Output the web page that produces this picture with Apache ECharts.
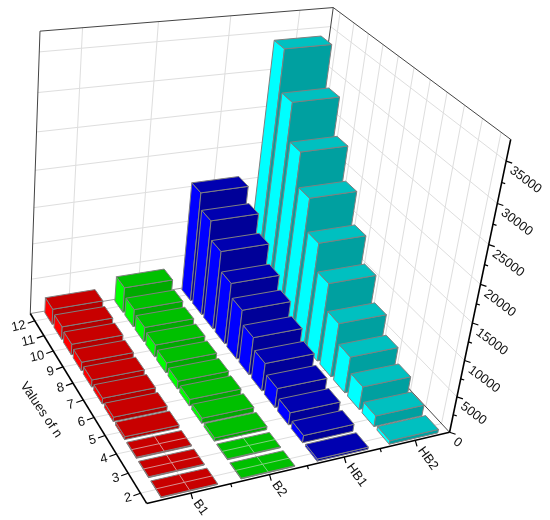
<!DOCTYPE html>
<html><head><meta charset="utf-8">
<style>html,body{margin:0;padding:0;background:#fff}#c{width:550px;height:520px}</style>
<script src="https://cdn.jsdelivr.net/npm/echarts@6/dist/echarts.min.js"></script>
</head><body><div id="c"></div>
<script>
var categories = ['B1','B2','HB1','HB2'];
var nLabels = [2,3,4,5,6,7,8,9,10,11,12];
var zTicks = [0,5000,10000,15000,20000,25000,30000,35000];
var B1  = [100,120,150,400,600,800,1000,1200,1500,1800,2200];
var B2  = [100,120,450,700,900,1100,1400,1700,2050,2500,3600];
var HB1 = [300,1000,1700,2700,3900,5300,7000,8700,11200,13600,15700];
var HB2 = [500,1500,3200,5100,7600,11100,14700,19000,23500,28500,34000];
var seriesValues = [B1,B2,HB1,HB2];
var topColors   = ['#C80000','#00C000','#0000B0','#00C0C0'];
var frontColors = ['#B40000','#00AA00','#000098','#00A0A0'];
var sideColors  = ['#FF0000','#00FF00','#0000FF','#00FFFF'];
var W=550,H=520;
var catExtent=[0.46,4.5], nExtent=[1.5,12.5], zExtent=[0,37500];
// camera: where the corners of the unit box land on the page
var anchors=[[0,0,0,147,503],[1,0,0,449,433],[0,1,0,30,314],[1,1,0,298,268],[0,1,1,40,31],[1,1,1,333,8],[1,0,1,511,139]];
function solve(){
  var rows=[],rhs=[];
  anchors.forEach(function(a){var x=a[0],y=a[1],z=a[2],X=a[3],Y=a[4];
    rows.push([1,x,y,z,0,0,0,0,-X*x,-X*y,-X*z]);rhs.push(X);
    rows.push([0,0,0,0,1,x,y,z,-Y*x,-Y*y,-Y*z]);rhs.push(Y);});
  var m=11,A=[];
  for(var i=0;i<m;i++){A[i]=[];for(var j=0;j<=m;j++){var s=0;
    for(var r=0;r<rows.length;r++)s+=rows[r][i]*(j<m?rows[r][j]:rhs[r]);A[i][j]=s;}}
  for(i=0;i<m;i++){var p=i;for(r=i+1;r<m;r++)if(Math.abs(A[r][i])>Math.abs(A[p][i]))p=r;
    var t=A[i];A[i]=A[p];A[p]=t;
    for(r=0;r<m;r++)if(r!==i){var f=A[r][i]/A[i][i];for(j=i;j<=m;j++)A[r][j]-=f*A[i][j];}}
  return A.map(function(row,i){return row[m]/row[i];});
}
var K=solve();
function proj(api,c,n,v){
  var q=api.coord([n,v]);
  var x=echarts.number.linearMap(c,catExtent,[0,1]),y=q[0]/W,z=1-q[1]/H;
  var w=1+K[8]*x+K[9]*y+K[10]*z;
  return [(K[0]+K[1]*x+K[2]*y+K[3]*z)/w,(K[4]+K[5]*x+K[6]*y+K[7]*z)/w];
}
function line(a,b,color,width){return {type:'line',shape:{x1:a[0],y1:a[1],x2:b[0],y2:b[1]},style:{stroke:color,lineWidth:width}};}
function text(s,p,rot,align,size){return {type:'text',x:p[0],y:p[1],rotation:-rot*Math.PI/180,
  style:{text:s,x:0,y:0,align:align,verticalAlign:'middle',fill:'#111',font:size+'px "Liberation Sans", Arial, sans-serif'}};}
function poly(pts,fill){return {type:'polygon',shape:{points:pts},style:{fill:fill,stroke:'#808080',lineWidth:1,lineJoin:'round'}};}

function renderFrame(params,api){
  var ch=[],G='#dedede',P=function(c,n,v){return proj(api,c,n,v);};
  var c0=catExtent[0],c1=catExtent[1],n0=nExtent[0],n1=nExtent[1],z1=zExtent[1];
  categories.forEach(function(_,i){var c=i+1;
    ch.push(line(P(c,n0,0),P(c,n1,0),G,1));
    ch.push(line(P(c,n1,0),P(c,n1,z1),G,1));
  });
  nLabels.forEach(function(n){
    ch.push(line(P(c0,n,0),P(c1,n,0),G,1));
    ch.push(line(P(c1,n,0),P(c1,n,z1),G,1));
  });
  zTicks.forEach(function(v){if(!v)return;
    ch.push(line(P(c0,n1,v),P(c1,n1,v),G,1));
    ch.push(line(P(c1,n1,v),P(c1,n0,v),G,1));
  });
  var thin='#444';
  ch.push(line(P(c0,n1,0),P(c1,n1,0),'#999',1));
  ch.push(line(P(c1,n1,0),P(c1,n0,0),thin,1));
  ch.push(line(P(c0,n1,0),P(c0,n1,z1),thin,1));
  ch.push(line(P(c1,n1,0),P(c1,n1,z1),thin,1));
  ch.push(line(P(c0,n1,z1),P(c1,n1,z1),thin,1));
  ch.push(line(P(c1,n1,z1),P(c1,n0,z1),thin,1));
  return {type:'group',children:ch};
}
function renderAxes(params,api){
  var ch=[],K0='#000',P=function(c,n,v){return proj(api,c,n,v);};
  var c0=catExtent[0],c1=catExtent[1],n0=nExtent[0],n1=nExtent[1],z1=zExtent[1];
  ch.push(line(P(c0,n0,0),P(c1,n0,0),K0,1.6));
  ch.push(line(P(c0,n0,0),P(c0,n1,0),K0,1.6));
  ch.push(line(P(c1,n0,0),P(c1,n0,z1),K0,1.6));
  function off(p,dx,dy){return [p[0]+dx,p[1]+dy];}
  categories.forEach(function(s,i){var p=P(i+1,n0,0);
    ch.push(line(p,off(p,1.7,6),K0,1.2));
    ch.push(text(s,off(p,5,8),54,'left',13));
    if(i<3){var m=P(i+1.5,n0,0);ch.push(line(m,off(m,1,3.5),K0,1.2));}
  });
  nLabels.forEach(function(n){var p=P(c0,n,0);
    ch.push(line(p,off(p,-7,2.5),K0,1.2));
    ch.push(text(String(n),off(p,-9,4),-13,'right',13));
  });
  zTicks.forEach(function(v){var p=P(c1,n0,v);
    ch.push(line(p,off(p,6,2),K0,1.2));
    ch.push(text(String(v),off(p,5,8),37,'left',13));
    if(v<35000){var m=P(c1,n0,v+2500);ch.push(line(m,off(m,3.5,1.2),K0,1.2));}
  });
  ch.push(text('Values of n',[41,410],56,'center',13));
  return {type:'group',children:ch};
}
function renderBar(params,api){
  var c=api.value(0),n=api.value(1),v=api.value(2);
  var i=c-1,hw=0.35,hd=0.40,P=function(a,b,z){return proj(api,a,b,z);};
  var l=c-hw,r=c+hw,f=n-hd,b=n+hd;
  var ch=[
    poly([P(l,b,0),P(l,f,0),P(l,f,v),P(l,b,v)],sideColors[i]),
    poly([P(l,f,0),P(r,f,0),P(r,f,v),P(l,f,v)],frontColors[i]),
    poly([P(l,b,v),P(r,b,v),P(r,f,v),P(l,f,v)],topColors[i])
  ];
  if(i<2&&v<200){ // floor grid showing through the flat bars
    var g=i?'#80d080':'#d89090';
    ch.push(line(P(l,n,v),P(r,n,v),g,1));
    ch.push(line(P(c,f,v),P(c,b,v),g,1));
  }
  return {type:'group',children:ch};
}
var barData=[];
for(var k=nLabels.length-1;k>=0;k--)for(var s=categories.length-1;s>=0;s--)barData.push([s+1,nLabels[k],seriesValues[s][k]]);
var chart=echarts.init(document.getElementById('c'),null,{renderer:'canvas',width:W,height:H});
chart.setOption({
  animation:false,backgroundColor:'#fff',
  grid:{left:0,top:0,width:W,height:H,containLabel:false},
  xAxis:{type:'value',min:nExtent[0],max:nExtent[1],show:false},
  yAxis:{type:'value',min:zExtent[0],max:zExtent[1],show:false},
  series:[
    {type:'custom',name:'frame',silent:true,clip:false,z:1,data:[[2,0]],renderItem:renderFrame,encode:{x:0,y:1}},
    {type:'custom',name:'bars',silent:true,clip:false,z:2,progressive:0,data:barData,renderItem:renderBar,encode:{x:1,y:2}},
    {type:'custom',name:'axes',silent:true,clip:false,z:3,data:[[2,0]],renderItem:renderAxes,encode:{x:0,y:1}}
  ]
});
</script></body></html>
